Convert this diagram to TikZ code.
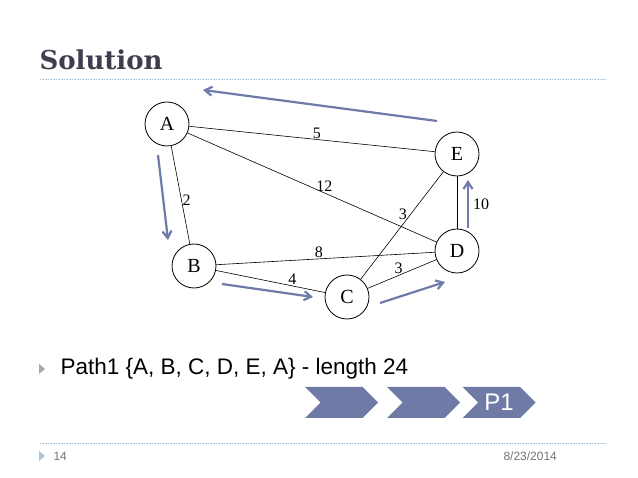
\documentclass[tikz,border=0pt]{standalone}
\usepackage{fontspec}
\setmainfont{Liberation Serif}
\newfontfamily\arialfont{Liberation Sans}
\newfontfamily\titlefont{DejaVu Serif}
\usetikzlibrary{arrows.meta, shapes.symbols}
\definecolor{pathblue}{HTML}{6E7AA8}
\definecolor{chevblue}{HTML}{6F7BA6}
\definecolor{titlegray}{HTML}{3E3E4E}
\definecolor{ruleblue}{HTML}{A9C4D8}

\begin{document}
\begin{tikzpicture}[x=1pt, y=-1pt,
  vertex/.style={circle, draw, thick, minimum size=44pt, inner sep=0pt, font=\fontsize{20}{20}\selectfont},
  edge/.style={draw, semithick},
  wlabel/.style={font=\fontsize{16}{16}\selectfont, inner sep=1pt},
  tour/.style={-{Straight Barb[length=7pt, width=9pt]}, draw=pathblue, line width=2.2pt},
  chev/.style={signal, signal to=east, signal from=west, fill=chevblue, minimum width=73pt, minimum height=31pt, inner sep=0pt, text=white, font=\arialfont\fontsize{24}{24}\selectfont},
  rule/.style={draw=ruleblue, densely dotted, line width=0.6pt}
]
  \useasboundingbox (0,0) rectangle (638,478);
  % Title
  \node[anchor=west, text=titlegray, font=\titlefont\bfseries\fontsize{26}{26}\selectfont] (title) at (36,60) {Solution};
  \draw[rule] (40,79) -- (605,79);

  % Vertices
  \node[vertex] (A) at (167,124) {A};
  \node[vertex] (B) at (194,266) {B};
  \node[vertex] (C) at (347,297) {C};
  \node[vertex] (D) at (457,251) {D};
  \node[vertex] (E) at (457,154) {E};

  % Edges
  \draw[edge] (A) -- node[wlabel, above, pos=0.52] {5} (E);
  \draw[edge] (A) -- node[wlabel, above, pos=0.55] {12} (D);
  \draw[edge] (A) -- node[wlabel, right, pos=0.55] {2} (B);
  \draw[edge] (B) -- node[wlabel, above, pos=0.47] {8} (D);
  \draw[edge] (B) -- node[wlabel, above, pos=0.7] {4} (C);
  \draw[edge] (C) -- node[wlabel, above, pos=0.45] {3} (D);
  \draw[edge] (C) -- node[wlabel, left, pos=0.6, xshift=-2pt] {3} (E);
  \draw[edge] (E) -- (D);

  % Tour arrows
  \coordinate (t1s) at (437,121); \coordinate (t1e) at (203,90);
  \coordinate (t2s) at (158,155); \coordinate (t2e) at (168,240);
  \coordinate (t3s) at (222,284); \coordinate (t3e) at (313,297);
  \coordinate (t4s) at (380,303); \coordinate (t4e) at (445,282);
  \coordinate (t5s) at (468,228); \coordinate (t5e) at (468,180);
  \draw[tour] (t1s) -- (t1e);
  \draw[tour] (t2s) -- (t2e);
  \draw[tour] (t3s) -- (t3e);
  \draw[tour] (t4s) -- (t4e);
  \draw[tour] (t5s) -- node[wlabel, right, xshift=3pt] {10} (t5e);

  % Bullet line
  \fill[gray!70] (39,364) -- (45,369) -- (39,374) -- cycle;
  \node[anchor=west, font=\arialfont\fontsize{22.5}{22.5}\selectfont] (path) at (57,369) {Path1 \{A, B, C, D, E, A\} - length 24};

  % Chevrons
  \node[chev] (c1) at (341.5,402.5) {};
  \node[chev] (c2) at (423.5,402.5) {};
  \node[chev] (c3) at (499,402.5) {P1};

  % Footer
  \draw[rule] (40,443) -- (605,443);
  \fill[ruleblue] (39,451) -- (45,456) -- (39,461) -- cycle;
  \node[anchor=west, text=gray!90!black, font=\arialfont\fontsize{12}{12}\selectfont] (page) at (50,456) {14};
  \node[anchor=west, text=gray!90!black, font=\arialfont\fontsize{12}{12}\selectfont] (date) at (500,456) {8/23/2014};
\end{tikzpicture}
\end{document}
